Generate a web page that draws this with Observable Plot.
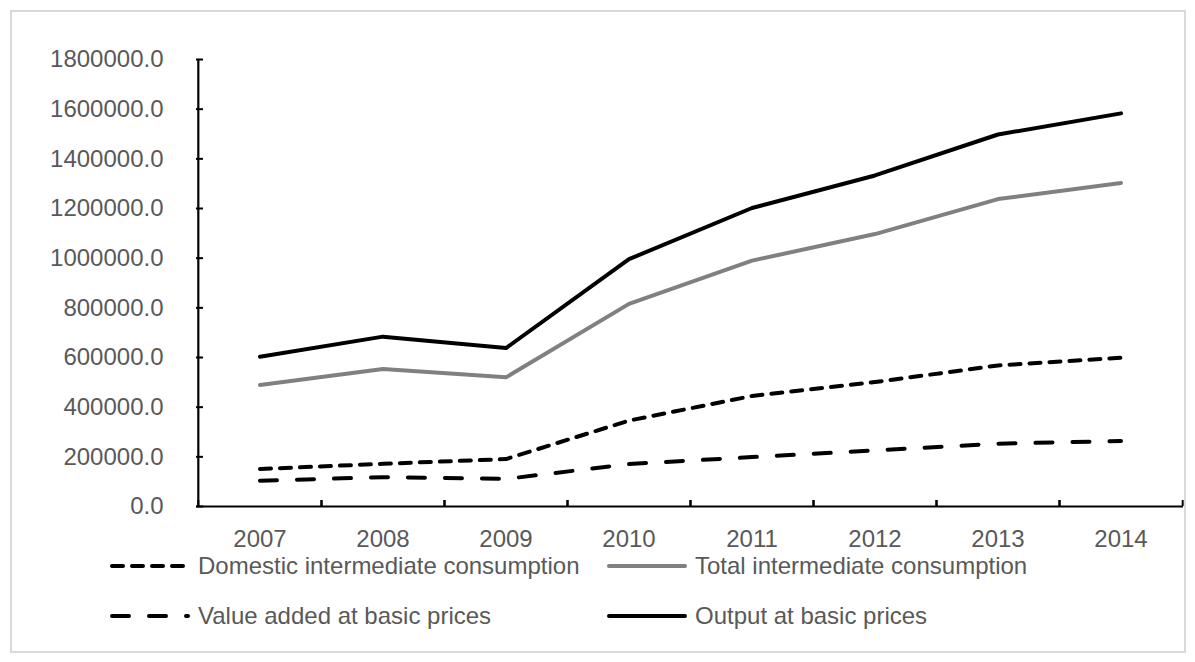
<!DOCTYPE html>
<html>
<head>
<meta charset="utf-8">
<script src="https://cdn.jsdelivr.net/npm/d3@7"></script>
<script src="https://cdn.jsdelivr.net/npm/@observablehq/plot@0.6"></script>
<style>
  html, body { margin: 0; padding: 0; background: #fff; }
  #wrap { position: relative; width: 1195px; height: 662px; overflow: hidden; font-family: "Liberation Sans", Arial, sans-serif; }
  #border { position: absolute; left: 10px; top: 10px; width: 1176px; height: 643px; box-sizing: border-box; border: 2px solid #d9d9d9; }
  #chart { position: absolute; left: 0; top: 0; }
  .leg { position: absolute; display: flex; align-items: center; font-size: 24px; line-height: 1; color: #595959; white-space: nowrap; height: 30px; }
  .leg svg { display: block; margin-right: 6px; }
</style>
</head>
<body>
<div id="wrap">
  <div id="border"></div>
  <div id="chart"></div>
  <div id="legend"></div>
</div>
<script>
const years = ["2007", "2008", "2009", "2010", "2011", "2012", "2013", "2014"];
const domestic = [151000, 172000, 191000, 346000, 445000, 501000, 568000, 599000];
const totalIC = [489000, 554000, 520000, 816000, 990000, 1097000, 1238000, 1303000];
const valueAdded = [104000, 118000, 111000, 171000, 199000, 226000, 253000, 264000];
const output = [603000, 684000, 638000, 996000, 1202000, 1333000, 1498000, 1583000];
const yTicks = [0, 200000, 400000, 600000, 800000, 1000000, 1200000, 1400000, 1600000, 1800000];

const series = [
  {name: "Domestic intermediate consumption", values: domestic, stroke: "#000000", dash: "11,9"},
  {name: "Total intermediate consumption", values: totalIC, stroke: "#808080", dash: null},
  {name: "Value added at basic prices", values: valueAdded, stroke: "#000000", dash: "17,20"},
  {name: "Output at basic prices", values: output, stroke: "#000000", dash: null}
];

const W = 1195, H = 560, mL = 196, mR = 12, mT = 59, mB = 54;
const bw = (W - mL - mR) / years.length;

const lineMarks = series.map(s => Plot.line(
  years.map((yr, i) => ({year: yr, value: s.values[i]})),
  {x: "year", y: "value", stroke: s.stroke, strokeWidth: 4, strokeDasharray: s.dash ?? undefined,
   strokeLinecap: "round", strokeLinejoin: "round"}
));

const chart = Plot.plot({
  width: W, height: H,
  marginLeft: mL, marginRight: mR, marginTop: mT, marginBottom: mB,
  style: {fontSize: "24px", fontFamily: "'Liberation Sans', Arial, sans-serif", color: "#595959", background: "transparent"},
  x: {type: "band", domain: years, padding: 0},
  y: {domain: [0, 1800000]},
  marks: [
    Plot.axisY({ticks: yTicks, tickSize: 0, tickPadding: 33, tickFormat: d => d.toFixed(1), label: null}),
    Plot.axisX({tickSize: 0, tickPadding: 23, label: null}),
    // inward y-axis tick marks
    Plot.ruleY(yTicks, {stroke: "#000", strokeWidth: 2, insetRight: W - mL - mR - 7}),
    // inward x-axis tick marks at category boundaries
    Plot.ruleX(years, {x: d => d, y1: 0, y2: 24000, dx: -bw / 2, stroke: "#000", strokeWidth: 2}),
    Plot.ruleX(years, {x: d => d, y1: 0, y2: 24000, dx: bw / 2, stroke: "#000", strokeWidth: 2}),
    // axis lines
    Plot.ruleX([years[0]], {x: d => d, y1: 0, y2: 1800000, dx: -bw / 2, stroke: "#000", strokeWidth: 2.2}),
    Plot.ruleY([0], {stroke: "#000", strokeWidth: 2.2}),
    ...lineMarks
  ]
});
document.getElementById("chart").appendChild(chart);

// Legend
const legendPos = [
  {left: 108, top: 551},
  {left: 605, top: 551},
  {left: 108, top: 601},
  {left: 605, top: 601}
];
const legend = document.getElementById("legend");
series.forEach((s, i) => {
  const div = document.createElement("div");
  div.className = "leg";
  div.style.left = legendPos[i].left + "px";
  div.style.top = legendPos[i].top + "px";
  const svg = d3.create("svg").attr("width", 84).attr("height", 30);
  svg.append("line")
    .attr("x1", 4).attr("x2", 80).attr("y1", 15).attr("y2", 15)
    .attr("stroke", s.stroke).attr("stroke-width", 4)
    .attr("stroke-linecap", "round")
    .attr("stroke-dasharray", s.dash);
  div.appendChild(svg.node());
  const span = document.createElement("span");
  span.textContent = s.name;
  div.appendChild(span);
  legend.appendChild(div);
});
</script>
</body>
</html>
